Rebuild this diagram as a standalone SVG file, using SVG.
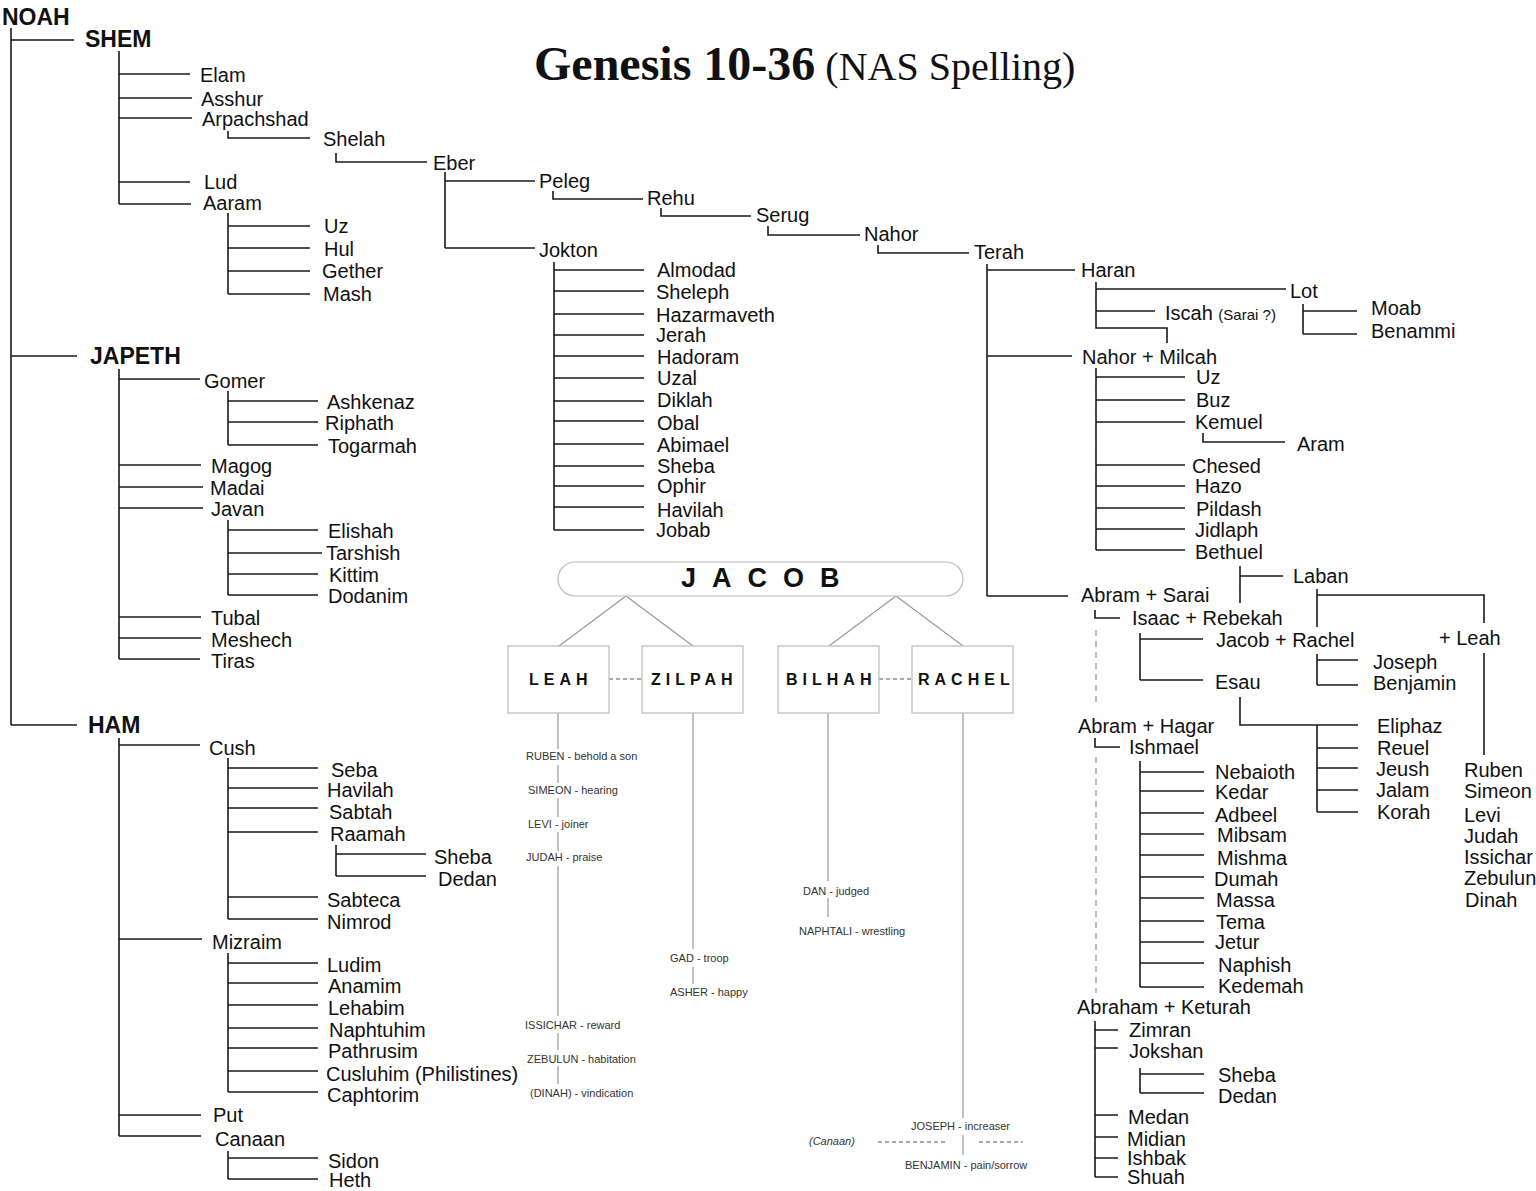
<svg xmlns="http://www.w3.org/2000/svg" width="1536" height="1191" viewBox="0 0 1536 1191">
<style>
text{font-family:"Liberation Sans",Arial,sans-serif;fill:#111}
.n{font-size:20px}
.b{font-size:23px;font-weight:bold}
.s{font-size:11px;fill:#333}
.sm{font-size:15px}
.tb{font-family:"Liberation Serif","Times New Roman",serif;font-size:48px;font-weight:bold}
.tr{font-family:"Liberation Serif","Times New Roman",serif;font-size:40px}
.bx{font-size:16px;font-weight:bold;letter-spacing:5px}
.jc{font-size:27px;font-weight:bold;letter-spacing:16px}
.ln{fill:none;stroke:#1a1a1a;stroke-width:1.6}
.gl{fill:none;stroke:#999;stroke-width:1.2}
.gd{fill:none;stroke:#999;stroke-width:1.3;stroke-dasharray:6,5}
.bd{fill:none;stroke:#555;stroke-width:1.2;stroke-dasharray:4,3}
.box{fill:#fff;stroke:#bbb;stroke-width:1.2}
</style>
<rect width="1536" height="1191" fill="#fff"/>
<g id="title"><text x="534" y="80"><tspan class="tb">Genesis 10-36</tspan><tspan class="tr"> (NAS Spelling)</tspan></text></g>
<g id="connectors">
<path class="ln" d="M11,28V725M11,40H74M11,356H77M11,725H77
M119,51V204M119,74H190M119,98H192M119,118H192M119,182H190M119,204H191
M228,131V138H310M336,153V162H427
M228,213V294M228,226H310M228,248H310M228,271H310M228,294H310
M445,172V248M445,181H535M445,248H535
M119,369V659M119,379H200M119,465H201M119,487H203M119,508H203M119,617H201M119,638H201M119,659H200
M228,391V445M228,401H318M228,422H318M228,445H318
M228,520V595M228,530H318M228,553H322M228,574H318M228,595H318
M119,738V1136M119,745H200M119,939H202M119,1115H201M119,1136H201
M228,758V919M228,768H318M228,788H318M228,808H318M228,832H318M228,897H318M228,919H318
M336,845V876M336,854H426M336,876H426
M228,953V1092M228,963H318M228,983H318M228,1005H318M228,1028H318M228,1048H318M228,1071H318M228,1092H318
M228,1151V1179M228,1158H318M228,1179H318
M553,191V199H643M661,208V216H751M768,226V235H860M878,245V253H969
M554,262V530M554,270H644M554,291H644M554,314H644M554,335H644M554,356H644M554,378H644M554,401H644M554,421H644M554,444H644M554,466H644M554,486H644M554,507H644M554,530H644
M987,264V596M987,270H1075M987,356H1072M987,596H1068
M1096,282V328H1167V343M1096,289H1286M1096,311H1155
M1303,304V334M1303,311H1357M1303,334H1357
M1096,368V550M1096,377H1185M1096,400H1185M1096,422H1185M1096,465H1185M1096,486H1185M1096,508H1185M1096,529H1185M1096,550H1185
M1203,433V442H1285
M1240,566V603M1240,576H1283
M1317,589V627M1317,595H1484V623M1484,653V755
M1095,610V618H1120M1140,633V680M1140,639H1203M1140,680H1203
M1317,654V685M1317,660H1358M1317,685H1358
M1240,697V725H1358M1317,725V812M1317,748H1358M1317,768H1358M1317,790H1358M1317,812H1358
M1095,738V747H1120
M1140,761V987M1140,772H1204M1140,791H1204M1140,813H1204M1140,834H1204M1140,855H1204M1140,877H1204M1140,898H1204M1140,921H1204M1140,942H1204M1140,963H1204M1140,987H1204
M1095,1021V1177M1095,1030H1118M1095,1048H1118M1095,1115H1118M1095,1137H1118M1095,1158H1118M1095,1177H1118
M1140,1068V1093M1140,1074H1204M1140,1093H1204"/>
<path class="gd" d="M1096,630V707M1096,757V993"/>
<path class="gl" d="M626,596L559,646M626,596L693,646M896,596L829,646M896,596L963,646
M558,713V749M558,765V783M558,798V817M558,832V851M558,866V1016M558,1033V1050M558,1066V1084
M693,713V949M693,967V984M828,713V881M828,898V917M963,713V1118M963,1135V1155"/>
<path class="bd" d="M609,679H642M879,679H912M878,1142H946M979,1142H1023"/>
</g>
<g id="noah"><text class="b" x="2" y="25">NOAH</text></g>
<g id="shem"><text class="b" x="85" y="47">SHEM</text></g>
<g id="japeth"><text class="b" x="90" y="364">JAPETH</text></g>
<g id="ham"><text class="b" x="88" y="733">HAM</text></g>
<g id="elam"><text class="n" x="200" y="82">Elam</text></g>
<g id="asshur"><text class="n" x="201" y="106">Asshur</text></g>
<g id="arpachshad"><text class="n" x="202" y="126">Arpachshad</text></g>
<g id="shelah"><text class="n" x="323" y="146">Shelah</text></g>
<g id="eber"><text class="n" x="433" y="170">Eber</text></g>
<g id="lud"><text class="n" x="204" y="189">Lud</text></g>
<g id="aaram"><text class="n" x="203" y="210">Aaram</text></g>
<g id="uz1"><text class="n" x="324" y="233">Uz</text></g>
<g id="hul"><text class="n" x="324" y="256">Hul</text></g>
<g id="gether"><text class="n" x="322" y="278">Gether</text></g>
<g id="mash"><text class="n" x="323" y="301">Mash</text></g>
<g id="gomer"><text class="n" x="204" y="388">Gomer</text></g>
<g id="ashkenaz"><text class="n" x="327" y="409">Ashkenaz</text></g>
<g id="riphath"><text class="n" x="325" y="430">Riphath</text></g>
<g id="togarmah"><text class="n" x="328" y="453">Togarmah</text></g>
<g id="magog"><text class="n" x="211" y="473">Magog</text></g>
<g id="madai"><text class="n" x="210" y="495">Madai</text></g>
<g id="javan"><text class="n" x="211" y="516">Javan</text></g>
<g id="elishah"><text class="n" x="328" y="538">Elishah</text></g>
<g id="tarshish"><text class="n" x="326" y="560">Tarshish</text></g>
<g id="kittim"><text class="n" x="329" y="582">Kittim</text></g>
<g id="dodanim"><text class="n" x="328" y="603">Dodanim</text></g>
<g id="tubal"><text class="n" x="211" y="625">Tubal</text></g>
<g id="meshech"><text class="n" x="211" y="647">Meshech</text></g>
<g id="tiras"><text class="n" x="211" y="668">Tiras</text></g>
<g id="cush"><text class="n" x="209" y="755">Cush</text></g>
<g id="seba"><text class="n" x="331" y="777">Seba</text></g>
<g id="havilah1"><text class="n" x="327" y="797">Havilah</text></g>
<g id="sabtah"><text class="n" x="329" y="819">Sabtah</text></g>
<g id="raamah"><text class="n" x="330" y="841">Raamah</text></g>
<g id="sheba1"><text class="n" x="434" y="864">Sheba</text></g>
<g id="dedan1"><text class="n" x="438" y="886">Dedan</text></g>
<g id="sabteca"><text class="n" x="327" y="907">Sabteca</text></g>
<g id="nimrod"><text class="n" x="327" y="929">Nimrod</text></g>
<g id="mizraim"><text class="n" x="212" y="949">Mizraim</text></g>
<g id="ludim"><text class="n" x="327" y="972">Ludim</text></g>
<g id="anamim"><text class="n" x="328" y="993">Anamim</text></g>
<g id="lehabim"><text class="n" x="328" y="1015">Lehabim</text></g>
<g id="naphtuhim"><text class="n" x="329" y="1037">Naphtuhim</text></g>
<g id="pathrusim"><text class="n" x="328" y="1058">Pathrusim</text></g>
<g id="cusluhim"><text class="n" x="326" y="1081">Cusluhim (Philistines)</text></g>
<g id="caphtorim"><text class="n" x="327" y="1102">Caphtorim</text></g>
<g id="put"><text class="n" x="213" y="1122">Put</text></g>
<g id="canaan"><text class="n" x="215" y="1146">Canaan</text></g>
<g id="sidon"><text class="n" x="328" y="1168">Sidon</text></g>
<g id="heth"><text class="n" x="329" y="1187">Heth</text></g>
<g id="peleg"><text class="n" x="539" y="188">Peleg</text></g>
<g id="rehu"><text class="n" x="647" y="205">Rehu</text></g>
<g id="serug"><text class="n" x="756" y="222">Serug</text></g>
<g id="nahor1"><text class="n" x="864" y="241">Nahor</text></g>
<g id="terah"><text class="n" x="974" y="259">Terah</text></g>
<g id="jokton"><text class="n" x="539" y="257">Jokton</text></g>
<g id="almodad"><text class="n" x="657" y="277">Almodad</text></g>
<g id="sheleph"><text class="n" x="656" y="299">Sheleph</text></g>
<g id="hazarmaveth"><text class="n" x="656" y="322">Hazarmaveth</text></g>
<g id="jerah"><text class="n" x="656" y="342">Jerah</text></g>
<g id="hadoram"><text class="n" x="657" y="364">Hadoram</text></g>
<g id="uzal"><text class="n" x="657" y="385">Uzal</text></g>
<g id="diklah"><text class="n" x="657" y="407">Diklah</text></g>
<g id="obal"><text class="n" x="657" y="430">Obal</text></g>
<g id="abimael"><text class="n" x="657" y="452">Abimael</text></g>
<g id="sheba2"><text class="n" x="657" y="473">Sheba</text></g>
<g id="ophir"><text class="n" x="657" y="493">Ophir</text></g>
<g id="havilah2"><text class="n" x="657" y="517">Havilah</text></g>
<g id="jobab"><text class="n" x="656" y="537">Jobab</text></g>
<g id="haran"><text class="n" x="1081" y="277">Haran</text></g>
<g id="lot"><text class="n" x="1290" y="298">Lot</text></g>
<g id="iscah"><text x="1165" y="320"><tspan class="n">Iscah </tspan><tspan class="sm">(Sarai ?)</tspan></text></g>
<g id="moab"><text class="n" x="1371" y="315">Moab</text></g>
<g id="benammi"><text class="n" x="1371" y="338">Benammi</text></g>
<g id="nahor-milcah"><text class="n" x="1082" y="364">Nahor + Milcah</text></g>
<g id="uz2"><text class="n" x="1196" y="384">Uz</text></g>
<g id="buz"><text class="n" x="1196" y="407">Buz</text></g>
<g id="kemuel"><text class="n" x="1195" y="429">Kemuel</text></g>
<g id="aram"><text class="n" x="1297" y="451">Aram</text></g>
<g id="chesed"><text class="n" x="1192" y="473">Chesed</text></g>
<g id="hazo"><text class="n" x="1195" y="493">Hazo</text></g>
<g id="pildash"><text class="n" x="1196" y="516">Pildash</text></g>
<g id="jidlaph"><text class="n" x="1195" y="537">Jidlaph</text></g>
<g id="bethuel"><text class="n" x="1195" y="559">Bethuel</text></g>
<g id="laban"><text class="n" x="1293" y="583">Laban</text></g>
<g id="abram-sarai"><text class="n" x="1081" y="602">Abram + Sarai</text></g>
<g id="isaac"><text class="n" x="1132" y="625">Isaac + Rebekah</text></g>
<g id="jacob-rachel"><text class="n" x="1216" y="647">Jacob + Rachel</text></g>
<g id="leah2"><text class="n" x="1439" y="645">+  Leah</text></g>
<g id="joseph2"><text class="n" x="1373" y="669">Joseph</text></g>
<g id="benjamin2"><text class="n" x="1373" y="690">Benjamin</text></g>
<g id="esau"><text class="n" x="1215" y="689">Esau</text></g>
<g id="eliphaz"><text class="n" x="1377" y="733">Eliphaz</text></g>
<g id="reuel"><text class="n" x="1377" y="755">Reuel</text></g>
<g id="jeush"><text class="n" x="1376" y="776">Jeush</text></g>
<g id="jalam"><text class="n" x="1376" y="797">Jalam</text></g>
<g id="korah"><text class="n" x="1377" y="819">Korah</text></g>
<g id="ruben2"><text class="n" x="1464" y="777">Ruben</text></g>
<g id="simeon2"><text class="n" x="1464" y="798">Simeon</text></g>
<g id="levi2"><text class="n" x="1464" y="822">Levi</text></g>
<g id="judah2"><text class="n" x="1464" y="843">Judah</text></g>
<g id="issichar2"><text class="n" x="1464" y="864">Issichar</text></g>
<g id="zebulun2"><text class="n" x="1464" y="885">Zebulun</text></g>
<g id="dinah2"><text class="n" x="1465" y="907">Dinah</text></g>
<g id="abram-hagar"><text class="n" x="1078" y="733">Abram + Hagar</text></g>
<g id="ishmael"><text class="n" x="1129" y="754">Ishmael</text></g>
<g id="nebaioth"><text class="n" x="1215" y="779">Nebaioth</text></g>
<g id="kedar"><text class="n" x="1215" y="799">Kedar</text></g>
<g id="adbeel"><text class="n" x="1215" y="822">Adbeel</text></g>
<g id="mibsam"><text class="n" x="1217" y="842">Mibsam</text></g>
<g id="mishma"><text class="n" x="1217" y="865">Mishma</text></g>
<g id="dumah"><text class="n" x="1214" y="886">Dumah</text></g>
<g id="massa"><text class="n" x="1216" y="907">Massa</text></g>
<g id="tema"><text class="n" x="1216" y="929">Tema</text></g>
<g id="jetur"><text class="n" x="1215" y="949">Jetur</text></g>
<g id="naphish"><text class="n" x="1218" y="972">Naphish</text></g>
<g id="kedemah"><text class="n" x="1218" y="993">Kedemah</text></g>
<g id="abraham-keturah"><text class="n" x="1077" y="1014">Abraham + Keturah</text></g>
<g id="zimran"><text class="n" x="1129" y="1037">Zimran</text></g>
<g id="jokshan"><text class="n" x="1129" y="1058">Jokshan</text></g>
<g id="sheba3"><text class="n" x="1218" y="1082">Sheba</text></g>
<g id="dedan3"><text class="n" x="1218" y="1103">Dedan</text></g>
<g id="medan"><text class="n" x="1128" y="1124">Medan</text></g>
<g id="midian"><text class="n" x="1127" y="1146">Midian</text></g>
<g id="ishbak"><text class="n" x="1127" y="1165">Ishbak</text></g>
<g id="shuah"><text class="n" x="1127" y="1184">Shuah</text></g>
<g id="jacob"><rect x="558" y="562" width="405" height="34" rx="17" class="box"/><text class="jc" x="681" y="587">JACOB</text></g>
<g id="leah"><rect x="508" y="646" width="101" height="67" class="box"/><text class="bx" x="529" y="685">LEAH</text></g>
<g id="zilpah"><rect x="642" y="646" width="101" height="67" class="box"/><text class="bx" x="651" y="685">ZILPAH</text></g>
<g id="bilhah"><rect x="778" y="646" width="101" height="67" class="box"/><text class="bx" x="786" y="685">BILHAH</text></g>
<g id="rachel"><rect x="912" y="646" width="101" height="67" class="box"/><text class="bx" x="918" y="685">RACHEL</text></g>
<g id="ruben"><text class="s" x="526" y="760">RUBEN - behold a son</text></g>
<g id="simeon"><text class="s" x="528" y="794">SIMEON - hearing</text></g>
<g id="levi"><text class="s" x="528" y="828">LEVI - joiner</text></g>
<g id="judah"><text class="s" x="526" y="861">JUDAH - praise</text></g>
<g id="issichar"><text class="s" x="525" y="1029">ISSICHAR - reward</text></g>
<g id="zebulun"><text class="s" x="527" y="1063">ZEBULUN - habitation</text></g>
<g id="dinah"><text class="s" x="530" y="1097">(DINAH) - vindication</text></g>
<g id="gad"><text class="s" x="670" y="962">GAD - troop</text></g>
<g id="asher"><text class="s" x="670" y="996">ASHER - happy</text></g>
<g id="dan"><text class="s" x="803" y="895">DAN - judged</text></g>
<g id="naphtali"><text class="s" x="799" y="935">NAPHTALI - wrestling</text></g>
<g id="joseph"><text class="s" x="911" y="1130">JOSEPH - increaser</text></g>
<g id="canaan2"><text class="s" x="809" y="1145" font-style="italic">(Canaan)</text></g>
<g id="benjamin"><text class="s" x="905" y="1169">BENJAMIN - pain/sorrow</text></g>
</svg>
